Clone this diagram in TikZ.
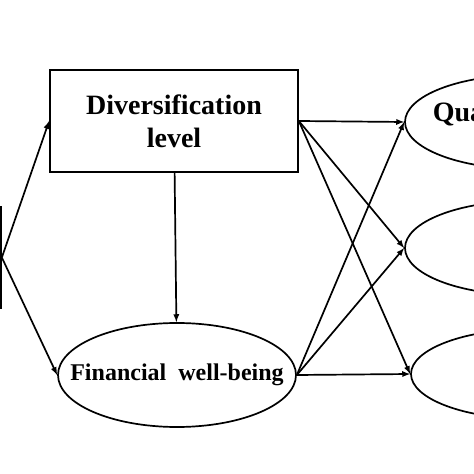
\documentclass[tikz,border=0pt]{standalone}
\usepackage{fontspec}
\setmainfont{Liberation Serif}
\usetikzlibrary{shapes.geometric}
\begin{document}
\begin{tikzpicture}[>=latex,x=1pt,y=1pt,line width=1.7pt,
  box/.style={draw,rectangle,inner sep=0pt,align=center,font=\fontsize{28}{33}\selectfont\bfseries},
  oval/.style={draw,ellipse,inner sep=0pt,label={[font=\fontsize{24}{28}\selectfont\bfseries]center:#1}},
  oval/.default={}]
\useasboundingbox (0,0) rectangle (474,474);
\node[box,minimum width=100pt,minimum height=101pt] (src) at (-49,216.5) {};
\node[box,minimum width=248pt,minimum height=102pt] (div) at (174,353) {Diversification\\level};
\node[oval={Financial\ \ well-being},minimum width=238pt,minimum height=104pt] (fin) at (177,99) {};
\node[oval,minimum width=240pt,minimum height=94pt] (top) at (525,352) {};
\node[oval,minimum width=240pt,minimum height=94pt] (mid) at (525,226) {};
\node[oval,minimum width=240pt,minimum height=90pt] (bot) at (531,100) {};
\node[anchor=base west,inner sep=0pt,font=\fontsize{28}{33}\selectfont\bfseries] (qua) at (432,352) {Qua};
\draw[->](src.east)--(div.west);
\draw[->](src.east)--(fin.west);
\draw[->](div)--(fin);
\foreach \t in {top,mid,bot}{
\draw[->](div.east)--(\t.west);
\draw[->](fin.east)--(\t.west);}
\end{tikzpicture}
\end{document}
